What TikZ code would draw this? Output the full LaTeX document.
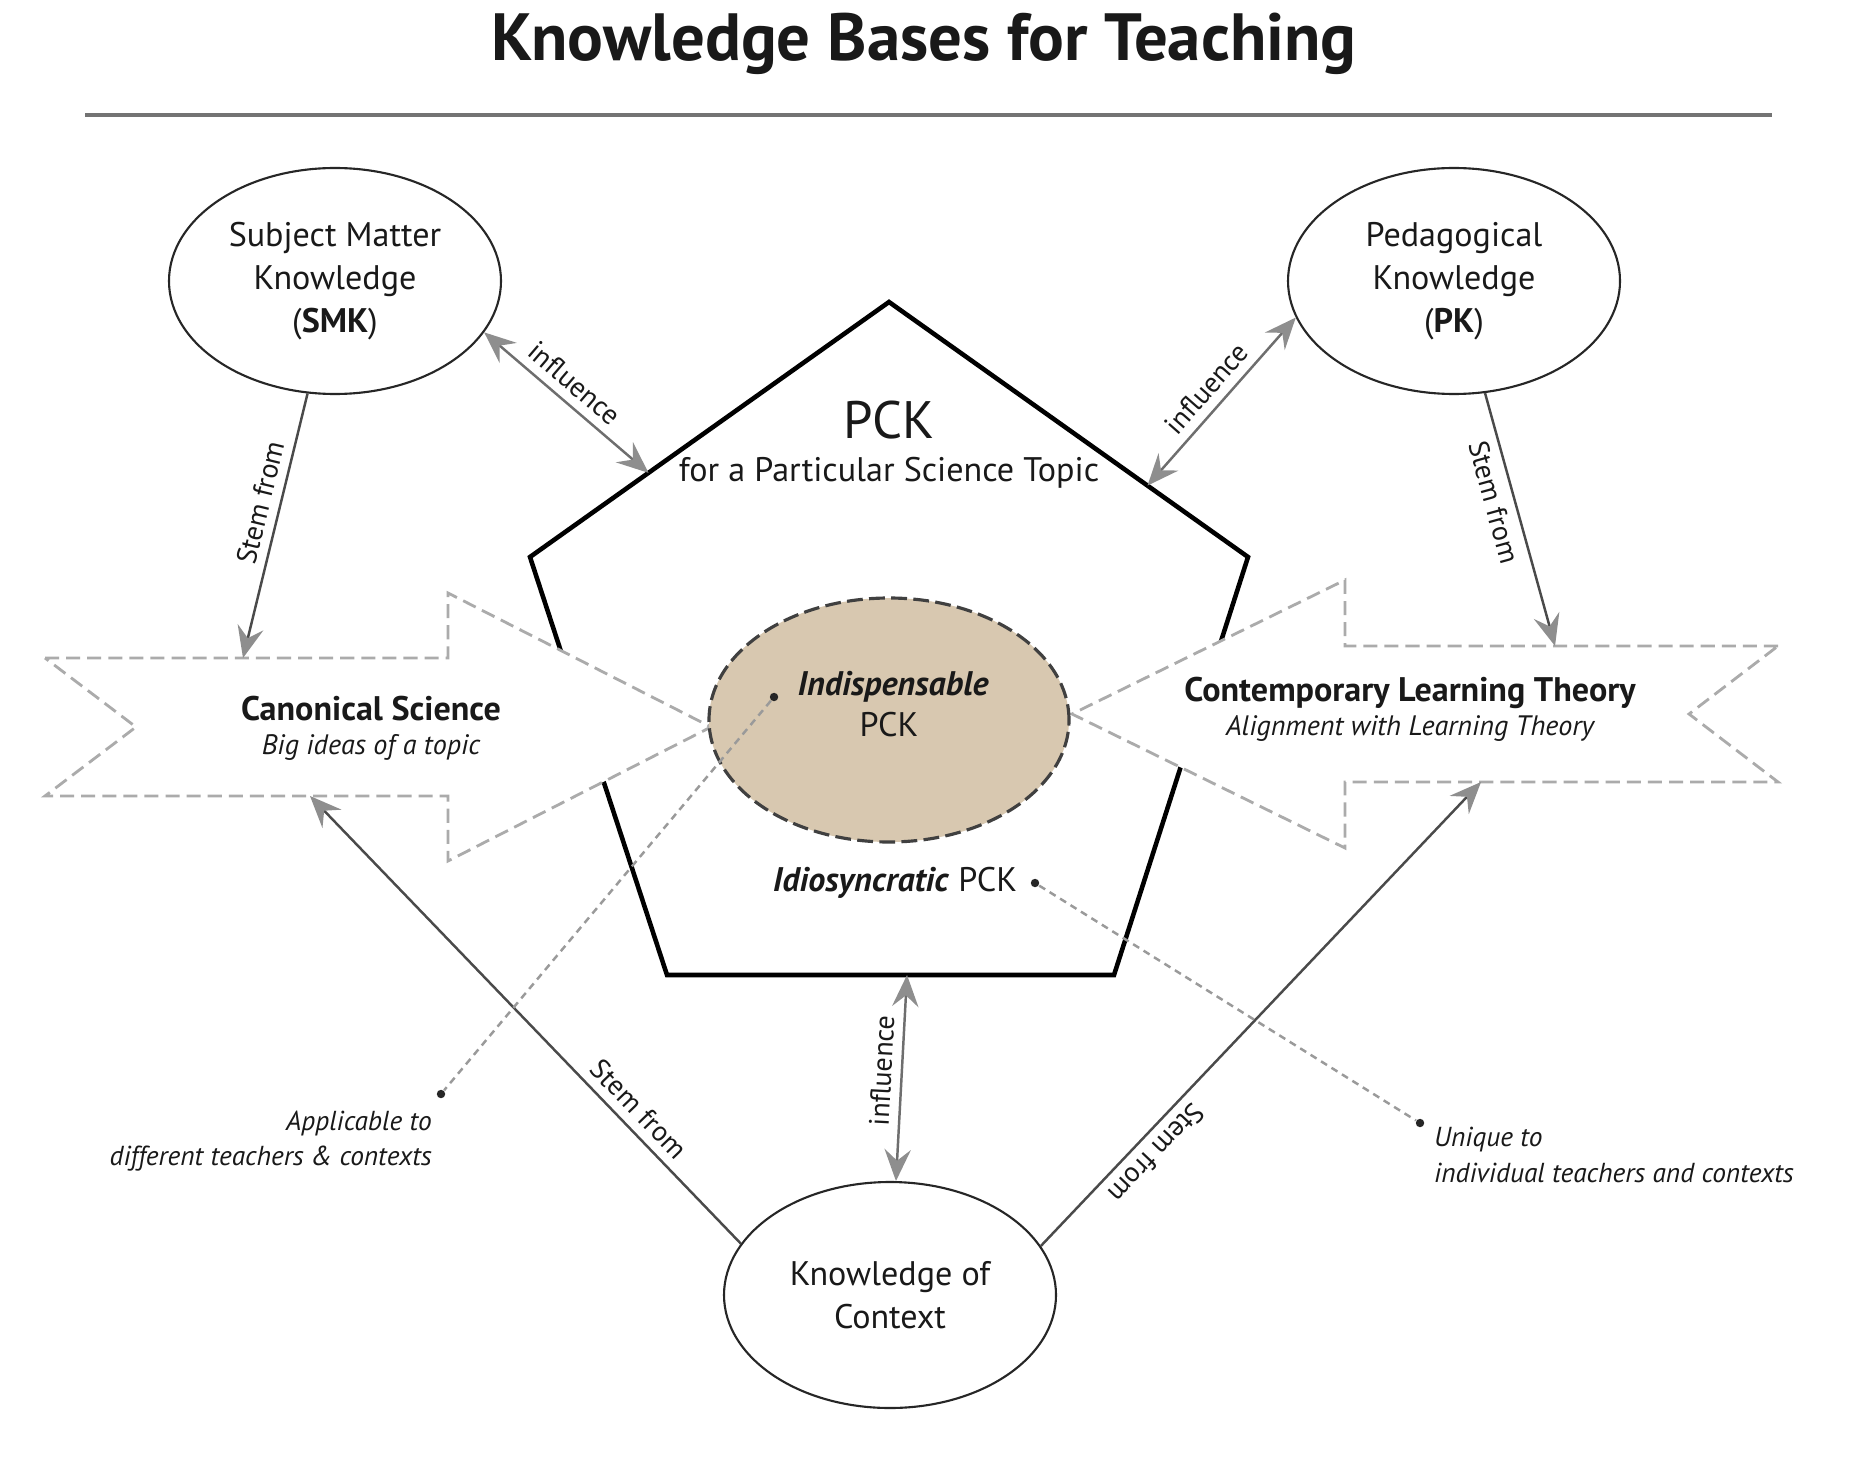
\documentclass[tikz,border=0pt]{standalone}
\usepackage{fontspec}
\setmainfont{PT Sans}
\usetikzlibrary{arrows.meta,calc,shapes.geometric}
\definecolor{tanfill}{HTML}{D8C8B0}
\definecolor{lineg}{HTML}{4A4A4A}
\definecolor{headg}{HTML}{8E8E8E}
\definecolor{infg}{HTML}{6E6E6E}
\definecolor{dashg}{HTML}{ABABAB}
\definecolor{ptrg}{HTML}{9A9A9A}
\newcommand{\fbody}{\fontsize{9.7}{12.2}\selectfont}
\begin{document}
\begin{tikzpicture}[x=0.1mm,y=-0.1mm,
  every node/.style={inner sep=1pt, text=black!90},
  knode/.style={ellipse, draw=black!85, line width=0.6pt, minimum width=33.2mm, minimum height=22.6mm, inner sep=0pt, align=center, font=\fbody},
  bigarrow/.style={draw=dashg, line width=0.8pt, dash pattern=on 4pt off 2pt, fill=white},
  stem/.style={draw=lineg, line width=0.7pt, -{Stealth[length=9pt,width=7.5pt,inset=3.2pt,color=headg]}},
  stemrev/.style={draw=lineg, line width=0.7pt, {Stealth[length=9pt,width=7.5pt,inset=3.2pt,color=headg]}-},
  infl/.style={draw=infg, line width=0.7pt, {Stealth[length=9pt,width=7.5pt,inset=3.2pt,color=headg]}-{Stealth[length=9pt,width=7.5pt,inset=3.2pt,color=headg]}},
  lbl/.style={font=\fontsize{8}{9}\selectfont, sloped, inner sep=2.5pt},
  ptr/.style={draw=ptrg, line width=0.7pt, dash pattern=on 2pt off 1.5pt},
  dotn/.style={circle, fill=black!85, inner sep=0pt, minimum size=2.4pt},
  note/.style={font=\fontsize{7.8}{10}\selectfont\itshape},
]
\useasboundingbox (0,0) rectangle (1858,1480);
\fill[white] (0,0) rectangle (1858,1480);

% title
\node[font=\fontsize{19}{22}\selectfont\bfseries] (title) at (924,44) {Knowledge Bases for Teaching};
\draw[line width=1.1pt, draw=black!55] (85,115) -- (1772,115);

% pentagon
\coordinate (pA) at (889,302);
\coordinate (pUL) at (530,557);
\coordinate (pUR) at (1248,557);
\coordinate (pLL) at (667,975);
\coordinate (pLR) at (1114,975);
\draw[line width=1.3pt, line join=miter] (pA) -- (pUR) -- (pLR) -- (pLL) -- (pUL) -- cycle;
\coordinate (pe1) at ($(pA)!0.67!(pUL)$);
\coordinate (pe2) at ($(pA)!0.72!(pUR)$);
\coordinate (pcb) at (907,975);

% big dashed arrows
\path[bigarrow] (45,658) -- (448,658) -- (448,593) -- (711,727) -- (448,861) -- (448,796) -- (45,796) -- (136,727) -- cycle;
\path[bigarrow] (1778,646) -- (1345,646) -- (1345,580) -- (1072,714) -- (1345,848) -- (1345,782) -- (1778,782) -- (1689,714) -- cycle;
\coordinate (cstop) at (243,658);
\coordinate (csbot) at (310,796);
\coordinate (clttop) at (1555,646);
\coordinate (cltbot) at (1481,782);

% indispensable ellipse
\node[ellipse, fill=tanfill, draw=black!75, line width=0.9pt, dash pattern=on 4.5pt off 1.8pt, minimum width=36mm, minimum height=24.4mm] (indell) at (889,720) {};

% knowledge nodes
\node[knode] (smk) at (335,281) {Subject Matter\\Knowledge\\(\textbf{SMK})};
\node[knode] (pk) at (1454,281) {Pedagogical\\Knowledge\\(\textbf{PK})};
\node[knode] (koc) at (890,1295) {Knowledge of\\Context};

% texts
\node[font=\fontsize{15}{18}\selectfont] (pck) at (889,420) {PCK};
\node[font=\fbody] (pcksub) at (889,473) {for a Particular Science Topic};
\node[font=\fbody\bfseries\itshape] (indtxt) at (893,687) {Indispensable};
\node[font=\fbody] (indpck) at (889,725) {PCK};
\node[font=\fbody] (idio) at (895,883) {\textbf{\textit{Idiosyncratic}} PCK};
\node[font=\fbody\bfseries] (cs) at (371,709) {Canonical Science};
\node[font=\fontsize{8}{10}\selectfont\itshape] (cssub) at (371,747) {Big ideas of a topic};
\node[font=\fbody\bfseries] (clt) at (1410,693) {Contemporary Learning Theory};
\node[font=\fontsize{8}{10}\selectfont\itshape] (cltsub) at (1410,728) {Alignment with Learning Theory};
\node[note, anchor=east, align=right] (appl) at (436,1141) {Applicable to\\different teachers \& contexts};
\node[note, anchor=west, align=left] (uniq) at (1430,1155) {Unique to\\individual teachers and contexts};

% connectors
\draw[stem] (smk) -- node[lbl, pos=0.43, above] {Stem from} (cstop);
\draw[stem] (pk) -- node[lbl, pos=0.41, below] {Stem from} (clttop);
\draw[stem] (koc.161) -- node[lbl, pos=0.27, above] {Stem from} (csbot);
\draw[stemrev] (cltbot) -- node[lbl, pos=0.77, above, allow upside down] {Stem from} (koc.18);
\draw[infl] (smk.-19) -- node[lbl, pos=0.47, above] {influence} (pe1);
\draw[infl] (pk.193) -- node[lbl, pos=0.5, above] {influence} (pe2);
\draw[infl] (pcb) -- node[lbl, pos=0.47, above] {influence} (koc.87);

% pointers
\node[dotn] (d1) at (774,697) {};
\node[dotn] (d2) at (441,1094) {};
\node[dotn] (d3) at (1035,883) {};
\node[dotn] (d4) at (1420,1123) {};
\draw[ptr] (d1) -- (d2);
\draw[ptr] (d3) -- (d4);
\end{tikzpicture}
\end{document}
